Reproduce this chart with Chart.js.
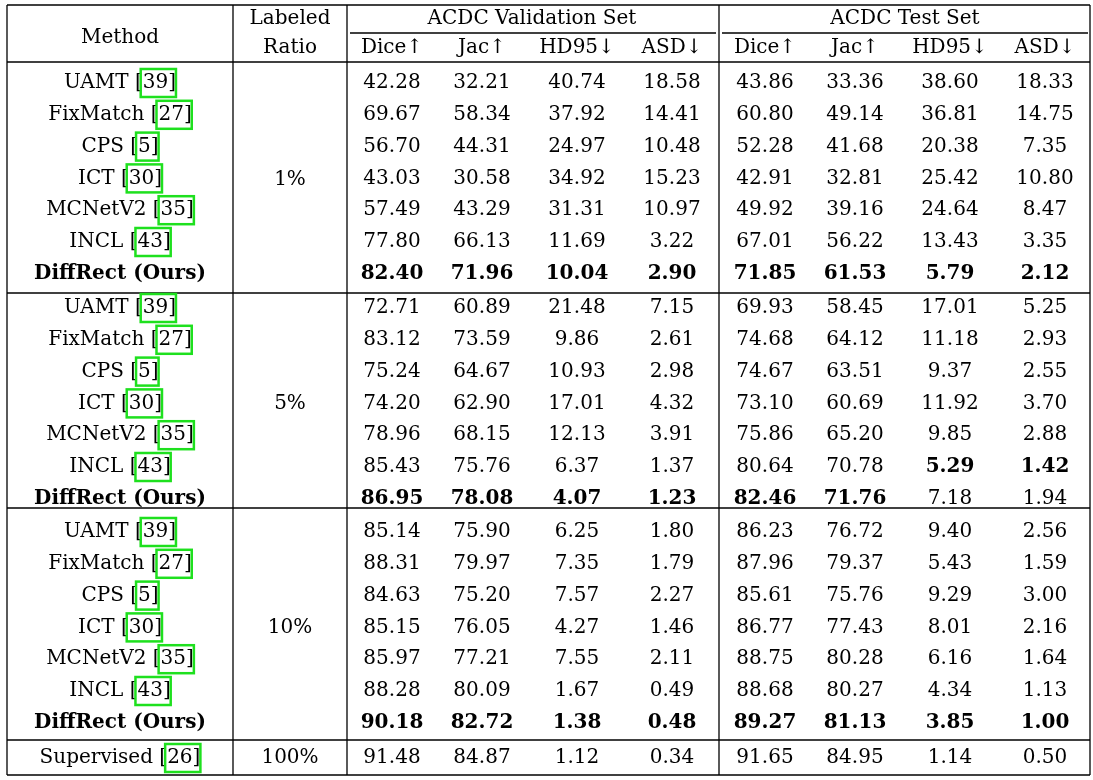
<!DOCTYPE html>
<html><head><meta charset="utf-8">
<script src="https://cdn.jsdelivr.net/npm/chart.js@4"></script>
<style>body{margin:0;background:#fff}#wrap{width:1093px;height:780px}</style>
</head><body><div id="wrap"><canvas id="c" width="1093" height="780"></canvas></div>
<script>
// ---------------- Data ----------------
const methods = ['UAMT','FixMatch','CPS','ICT','MCNetV2','INCL','DiffRect (Ours)'];
const refs = ['39','27','5','30','35','43',null];
const ratios = ['1%','5%','10%'];
const metricHeads = ['Dice↑','Jac↑','HD95↓','ASD↓'];
const groupHeads = ['ACDC Validation Set','ACDC Test Set'];
const valDice = [42.28,69.67,56.70,43.03,57.49,77.80,82.40, 72.71,83.12,75.24,74.20,78.96,85.43,86.95, 85.14,88.31,84.63,85.15,85.97,88.28,90.18, 91.48];
const valJac  = [32.21,58.34,44.31,30.58,43.29,66.13,71.96, 60.89,73.59,64.67,62.90,68.15,75.76,78.08, 75.90,79.97,75.20,76.05,77.21,80.09,82.72, 84.87];
const valHD   = [40.74,37.92,24.97,34.92,31.31,11.69,10.04, 21.48,9.86,10.93,17.01,12.13,6.37,4.07, 6.25,7.35,7.57,4.27,7.55,1.67,1.38, 1.12];
const valASD  = [18.58,14.41,10.48,15.23,10.97,3.22,2.90, 7.15,2.61,2.98,4.32,3.91,1.37,1.23, 1.80,1.79,2.27,1.46,2.11,0.49,0.48, 0.34];
const tstDice = [43.86,60.80,52.28,42.91,49.92,67.01,71.85, 69.93,74.68,74.67,73.10,75.86,80.64,82.46, 86.23,87.96,85.61,86.77,88.75,88.68,89.27, 91.65];
const tstJac  = [33.36,49.14,41.68,32.81,39.16,56.22,61.53, 58.45,64.12,63.51,60.69,65.20,70.78,71.76, 76.72,79.37,75.76,77.43,80.28,80.27,81.13, 84.95];
const tstHD   = [38.60,36.81,20.38,25.42,24.64,13.43,5.79, 17.01,11.18,9.37,11.92,9.85,5.29,7.18, 9.40,5.43,9.29,8.01,6.16,4.34,3.85, 1.14];
const tstASD  = [18.33,14.75,7.35,10.80,8.47,3.35,2.12, 5.25,2.93,2.55,3.70,2.88,1.42,1.94, 2.56,1.59,3.00,2.16,1.64,1.13,1.00, 0.50];
// bold cells: "row,col"
const boldCells = [];
[6,13,20].forEach(r => [0,1,2,3,4,5,6,7].forEach(c => boldCells.push(r+','+c)));
['13,6','13,7'].forEach(k => boldCells.splice(boldCells.indexOf(k),1));
boldCells.push('12,6','12,7');

// ---------------- Layout ----------------
const colCenters = [392,482,577,672,765,855,950,1045];
const rowY = [];
[83,308,532].forEach(s => { for(let i=0;i<7;i++) rowY.push(s + i*31.8); });
rowY.push(758);
const hLines = [5,62,293,508,740,775];
const vLines = [7,233,347,719,1090];
const serif = '"DejaVu Serif", "Liberation Serif", serif';

const cols = [valDice,valJac,valHD,valASD,tstDice,tstJac,tstHD,tstASD];

const tablePlugin = {
  id:'table',
  beforeDraw(chart){
    const ctx = chart.ctx; ctx.save(); ctx.fillStyle='#fff'; ctx.fillRect(0,0,chart.width,chart.height); ctx.restore();
  },
  afterDraw(chart){
    const ctx = chart.ctx, X = chart.scales.x, Y = chart.scales.y;
    const px = v => X.getPixelForValue(v), py = v => Y.getPixelForValue(v);
    ctx.save();
    ctx.strokeStyle='#000'; ctx.lineWidth=1.3;
    hLines.forEach(y => { ctx.beginPath(); ctx.moveTo(px(7),py(y)); ctx.lineTo(px(1090),py(y)); ctx.stroke(); });
    vLines.forEach(x => { ctx.beginPath(); ctx.moveTo(px(x),py(5)); ctx.lineTo(px(x),py(775)); ctx.stroke(); });
    [[350,716],[722,1088]].forEach(([a,b]) => { ctx.beginPath(); ctx.moveTo(px(a),py(33)); ctx.lineTo(px(b),py(33)); ctx.stroke(); });

    ctx.fillStyle='#000'; ctx.textAlign='center'; ctx.textBaseline='middle';
    const norm = '20px '+serif, bold = 'bold 20px '+serif;
    ctx.font = norm;
    ctx.fillText('Method', px(120), py(38));
    ctx.fillText('Labeled', px(290), py(19));
    ctx.fillText('Ratio', px(290), py(48));
    ctx.fillText(groupHeads[0], px(532), py(19));
    ctx.fillText(groupHeads[1], px(905), py(19));
    colCenters.forEach((x,i) => ctx.fillText(metricHeads[i%4], px(x), py(48)));

    // ratio column
    [[180,0],[404,1],[628,2]].forEach(([y,i]) => ctx.fillText(ratios[i], px(290), py(y)));
    ctx.fillText('100%', px(290), py(758));

    // method column
    const drawMethod = (name, ref, y, isBold) => {
      ctx.font = isBold ? bold : norm;
      const label = ref ? name + ' [' + ref + ']' : name;
      ctx.textAlign='center';
      ctx.fillText(label, px(120), py(y));
      if(ref){
        const w = ctx.measureText(label).width;
        const wr = ctx.measureText(ref + ']').width;
        const x1 = px(120) + w/2 - wr - 2;
        ctx.strokeStyle='#1ee01e'; ctx.lineWidth=2.5;
        ctx.strokeRect(x1, py(y)-14, wr+2, 28);
        ctx.strokeStyle='#000'; ctx.lineWidth=1.3;
      }
    };
    for(let b=0;b<3;b++) methods.forEach((m,i) => drawMethod(m, refs[i], rowY[b*7+i], i===6));
    drawMethod('Supervised', '26', rowY[21], false);

    // numbers
    ctx.textAlign='center';
    cols.forEach((arr,c) => arr.forEach((v,r) => {
      ctx.font = boldCells.includes(r+','+c) ? bold : norm;
      ctx.fillText(v.toFixed(2), px(colCenters[c]), py(rowY[r]));
    }));
    ctx.restore();
  }
};

new Chart(document.getElementById('c'), {
  type:'scatter',
  data:{datasets:[{data:[]}]},
  options:{
    responsive:false, animation:false, devicePixelRatio:1,
    layout:{padding:0},
    plugins:{legend:{display:false}, tooltip:{enabled:false}},
    scales:{
      x:{type:'linear',min:0,max:1093,display:false},
      y:{type:'linear',min:0,max:780,reverse:true,display:false}
    }
  },
  plugins:[tablePlugin]
});
</script>
</body></html>
